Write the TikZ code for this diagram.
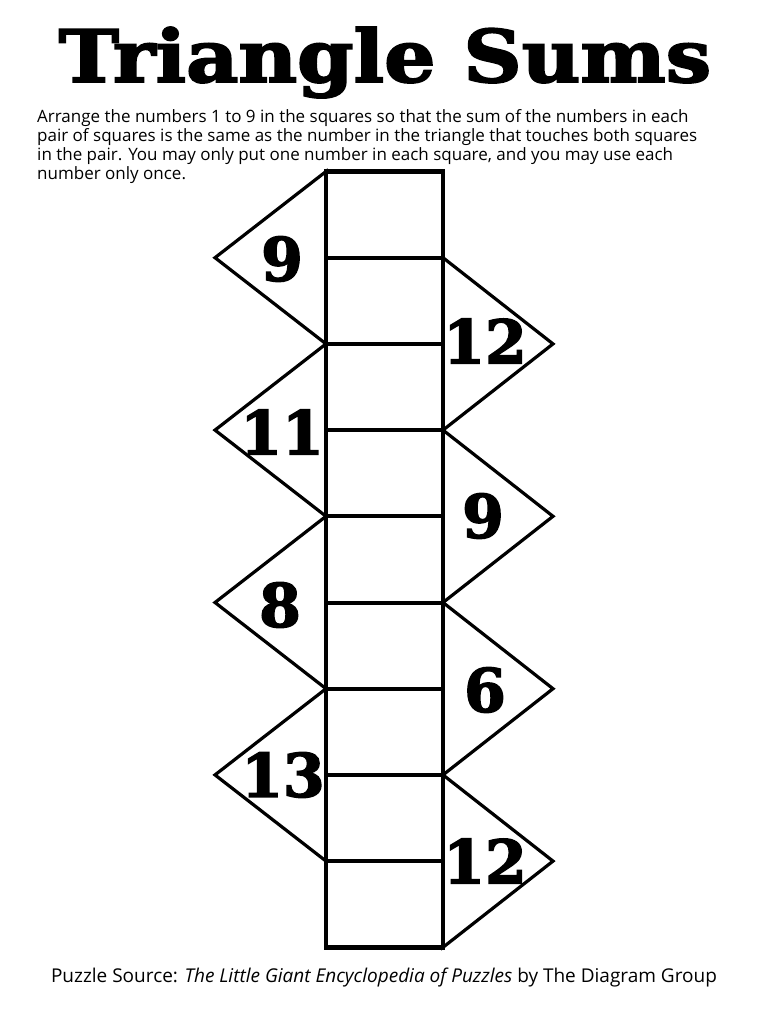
\documentclass[tikz,border=0pt]{standalone}
\usepackage{fontspec}
\setmainfont{Open Sans}
\newfontfamily\titlefont{DejaVu Serif}[UprightFont=* Bold, FakeBold=2.5]
\begin{document}
\begin{tikzpicture}[x=1pt,y=-1pt,
  tri/.style={draw=black,line width=3.2pt,line join=miter,fill=white},
  col/.style={draw=black,line width=4.5pt,line join=miter},
  rung/.style={draw=black,line width=4pt},
  num/.style={font=\titlefont\fontsize{60}{60}\selectfont,inner sep=0pt,anchor=center},
  body/.style={font=\fontsize{17}{19}\selectfont,inner sep=0pt,anchor=north west,align=left}]
\useasboundingbox (0,0) rectangle (768,1024);
% title
\node[inner sep=0pt,anchor=base] (title) at (385,82) {\resizebox{652pt}{55pt}{\titlefont Triangle Sums}};
% instructions
\node[body] (text) at (37,109) {Arrange the numbers 1 to 9 in the squares so that the sum of the numbers in each\\
pair of squares is the same as the number in the triangle that touches both squares\\
in the pair. You may only put one number in each square, and you may use each\\
number only once.};
% column boundaries
\foreach \i [evaluate=\i as \yy using 171.5+86.2*\i] in {0,...,9} {
  \coordinate (L\i) at (326,\yy);
  \coordinate (R\i) at (443,\yy);
}
% left triangles
\foreach \a/\n in {0/9,2/11,4/8,6/13} {
  \pgfmathtruncatemacro{\b}{\a+2}
  \pgfmathtruncatemacro{\m}{\a+1}
  \coordinate (LA\a) at ([xshift=-111pt]L\m);
  \draw[tri] (L\a) -- (LA\a) -- (L\b) -- cycle;
}
% right triangles
\foreach \a/\n in {1/12,3/9,5/6,7/12} {
  \pgfmathtruncatemacro{\b}{\a+2}
  \pgfmathtruncatemacro{\m}{\a+1}
  \coordinate (RA\a) at ([xshift=110pt]R\m);
  \draw[tri] (R\a) -- (RA\a) -- (R\b) -- cycle;
}
% column
\foreach \i in {1,...,8} { \draw[rung] (L\i) -- (R\i); }
\draw[col] (L0) rectangle (R9);
% numbers
\node[num] (n1) at (282,259) {9};
\node[num] (n2) at (485,341) {12};
\node[num] (n3) at (282,432) {11};
\node[num] (n4) at (483,516) {9};
\node[num] (n5) at (280,605) {8};
\node[num] (n6) at (485,690) {6};
\node[num] (n7) at (283,775) {13};
\node[num] (n8) at (485,861) {12};
% source
\node[inner sep=0pt,anchor=base,font=\fontsize{19}{22}\selectfont] (src) at (384,982) {Puzzle Source: \textit{The Little Giant Encyclopedia of Puzzles} by The Diagram Group};
\end{tikzpicture}
\end{document}
